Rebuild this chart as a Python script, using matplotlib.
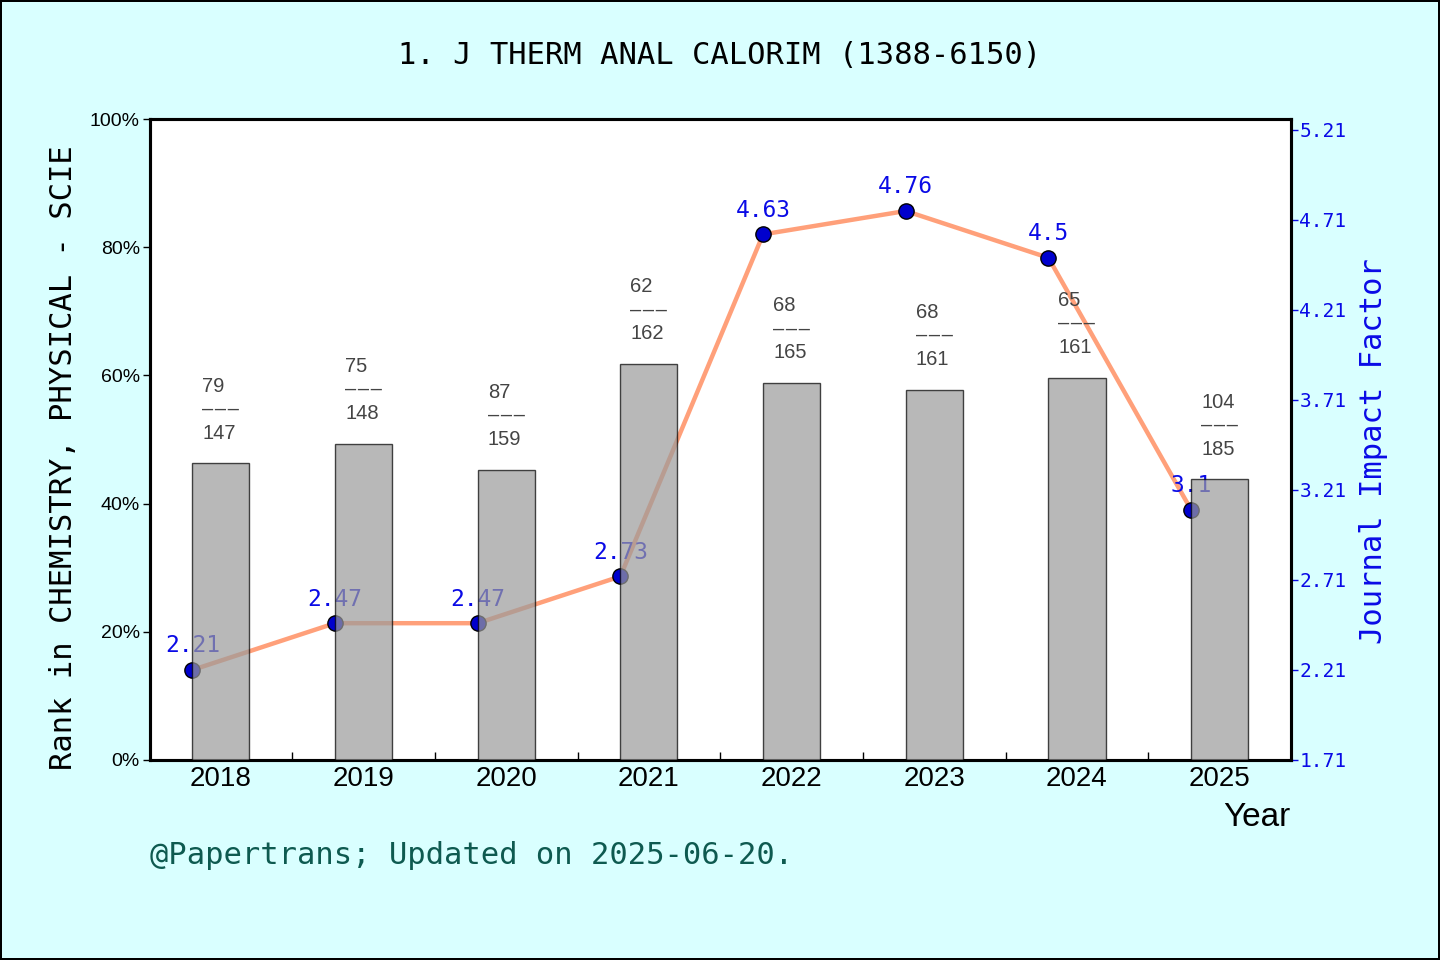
import matplotlib
matplotlib.use("Agg")
import matplotlib.pyplot as plt
import numpy as np

years = ["2018", "2019", "2020", "2021", "2022", "2023", "2024", "2025"]
rank = [79, 75, 87, 62, 68, 68, 65, 104]
total = [147, 148, 159, 162, 165, 161, 161, 185]
impact = [2.21, 2.47, 2.47, 2.73, 4.63, 4.76, 4.5, 3.1]
impact_labels = ["2.21", "2.47", "2.47", "2.73", "4.63", "4.76", "4.5", "3.1"]
right_ticks = [1.71, 2.21, 2.71, 3.21, 3.71, 4.21, 4.71, 5.21]
left_ticks = [0, 20, 40, 60, 80, 100]

title = "1. J THERM ANAL CALORIM (1388-6150)"
ylabel_left = "Rank in CHEMISTRY, PHYSICAL - SCIE"
ylabel_right = "Journal Impact Factor"
footer = "@Papertrans; Updated on 2025-06-20."

MONO = ["DejaVu Sans Mono"]
SANS = ["Liberation Sans", "DejaVu Sans"]
BLUE = "#0A0AE6"
DASH = "\u2013\u200a\u2013\u200a\u2013"

fig = plt.figure(figsize=(14.4, 9.6), dpi=100, facecolor="#D9FFFF",
                 edgecolor="black", linewidth=1.5)
ax1 = fig.add_axes([149.5/1440, 1-760/960, (1291-149.5)/1440, (760-119)/960])
ax2 = ax1.twinx()
ax1.set_zorder(ax2.get_zorder() + 1)
ax1.patch.set_visible(False)
ax2.patch.set_facecolor("white")
ax2.patch.set_visible(True)

x = np.arange(len(years))
pct = [100.0 * (1 - r / t) for r, t in zip(rank, total)]

ax1.bar(x, pct, width=0.4, color="#9B9B9B", alpha=0.71, edgecolor="black",
        linewidth=1.0, zorder=3)
for xi, p, r, t in zip(x, pct, rank, total):
    ax1.annotate(f"{r}\n{DASH}\n{t}", xy=(xi, p), xytext=(0, 15),
                 textcoords="offset points", ha="center", va="bottom",
                 multialignment="left", fontsize=14.5, color="#444444",
                 family=SANS, linespacing=1.3, zorder=4)

ax1.set_xlim(-0.5, 7.5)
ax1.set_ylim(0, 100)
ax1.set_yticks(left_ticks)
ax1.set_yticklabels([f"{v}%" for v in left_ticks], fontsize=14, family=SANS)
ax1.set_xticks(x)
ax1.set_xticklabels(years, fontsize=20, family=SANS)
ax1.set_xticks(x[:-1] + 0.5, minor=True)
ax1.tick_params(axis="x", which="major", length=0, pad=4)
ax1.tick_params(axis="x", which="minor", direction="in", length=6, width=1)
ax1.tick_params(axis="y", direction="out", length=5, width=1, pad=2)

xl = x - 0.2
ax2.plot(xl, impact, color="#FFA07A", linewidth=3.2, zorder=2)
ax2.plot(xl, impact, linestyle="none", marker="o", markersize=11,
         markerfacecolor="#0000CD", markeredgecolor="black",
         markeredgewidth=1, zorder=3)
for xi, v, lab in zip(xl, impact, impact_labels):
    ax2.annotate(lab, xy=(xi, v), xytext=(0, 9), textcoords="offset points",
                 ha="center", va="bottom", fontsize=16.5, color=BLUE,
                 family=MONO, zorder=4)
ax2.set_ylim(1.71, 5.271)
ax2.set_yticks(right_ticks)
ax2.set_yticklabels([f"{v:.2f}" for v in right_ticks], fontsize=14,
                    family=MONO, color=BLUE)
ax2.tick_params(axis="y", direction="out", length=5, width=1, colors=BLUE,
                pad=1)

for ax in (ax1, ax2):
    for s in ax.spines.values():
        s.set_linewidth(2.2)
        s.set_color("black")

fig.text(0.5, 1-55/960, title, ha="center", va="center", fontsize=22,
         family=MONO, color="black")
fig.text(0.044, 1-458/960, ylabel_left, ha="center", va="center",
         rotation=90, fontsize=22, family=MONO, color="black")
fig.text(1374/1440, 1-451/960, ylabel_right, ha="center", va="center",
         rotation=90, fontsize=22, family=MONO, color=BLUE)
fig.text(1290/1440, 1-818/960, "Year", ha="right", va="center", fontsize=24,
         family=SANS, color="black")
fig.text(150/1440, 1-855/960, footer, ha="left", va="center", fontsize=22,
         family=MONO, color="#0E5A50")

fig.savefig("out.png", dpi=100, facecolor=fig.get_facecolor(),
            edgecolor=fig.get_edgecolor())
